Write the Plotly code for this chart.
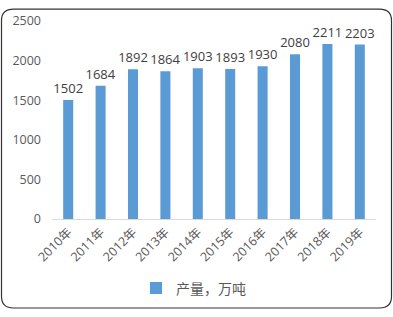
import plotly.graph_objects as go

years = ["2010年", "2011年", "2012年", "2013年", "2014年", "2015年", "2016年", "2017年", "2018年", "2019年"]
output = [1502, 1684, 1892, 1864, 1903, 1893, 1930, 2080, 2211, 2203]
series_name = "产量，万吨"

W, H = 393, 317
ml, mr, mt, mb = 52, 17, 14, 95
pw, ph = W - ml - mr, H - mt - mb

FONT = "Open Sans, Noto Sans CJK SC, sans-serif"

fig = go.Figure()
fig.add_trace(go.Bar(
    x=years, y=output, name=series_name,
    marker=dict(color="#5b9bd5", line=dict(width=0)),
    width=0.31,
    text=[str(v) for v in output], textposition="outside",
    textfont=dict(size=13, color="#404040", family=FONT),
    constraintext="none",
    cliponaxis=False,
))

# rounded border in paper coordinates
def px(x):
    return (x - ml) / pw
def py(y):
    return (H - mb - y) / ph

x0, x1, y0, y1, r = 1.5, 391.5, 1.5, 315.5, 12
path = (f"M {px(x0+r)},{py(y0)} L {px(x1-r)},{py(y0)} Q {px(x1)},{py(y0)} {px(x1)},{py(y0+r)} "
        f"L {px(x1)},{py(y1-r)} Q {px(x1)},{py(y1)} {px(x1-r)},{py(y1)} "
        f"L {px(x0+r)},{py(y1)} Q {px(x0)},{py(y1)} {px(x0)},{py(y1-r)} "
        f"L {px(x0)},{py(y0+r)} Q {px(x0)},{py(y0)} {px(x0+r)},{py(y0)} Z")

fig.update_layout(
    width=W, height=H,
    margin=dict(l=ml, r=mr, t=mt, b=mb),
    paper_bgcolor="white", plot_bgcolor="white",
    showlegend=True,
    legend=dict(orientation="h", x=px(136), xanchor="left", y=py(295), yanchor="middle",
                font=dict(size=14, color="#595959", family=FONT), itemwidth=30),
    xaxis=dict(showgrid=False, showline=True, linecolor="#d9d9d9", linewidth=1,
               tickangle=-45, ticks="", tickfont=dict(size=12.5, color="#595959", family=FONT)),
    yaxis=dict(range=[0, 2500], dtick=500, showgrid=False, zeroline=False, showline=False,
               ticks="", tickfont=dict(size=12.5, color="#595959", family=FONT), ticklabelstandoff=10),
    shapes=[dict(type="path", xref="paper", yref="paper", path=path,
                 line=dict(color="#333333", width=1.2), fillcolor="rgba(0,0,0,0)")],
)

fig.write_html("out.html")
